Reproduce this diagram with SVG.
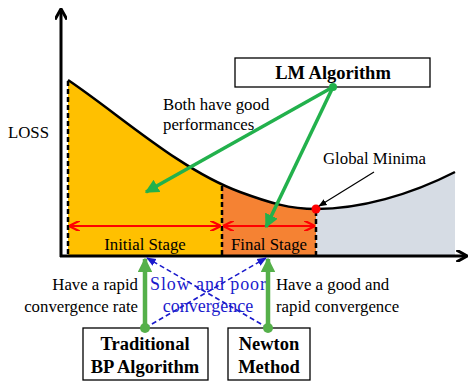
<svg xmlns="http://www.w3.org/2000/svg" width="474" height="390" viewBox="0 0 474 390" font-family="'Liberation Serif', 'Times New Roman', 'DejaVu Serif', serif">
<style>
text{font-family:'Liberation Serif','Times New Roman','DejaVu Serif',serif;fill:#000}
.lbl{font-size:16.8px}
.bold{font-size:18.5px;font-weight:bold}
.box{fill:#fff;stroke:#000;stroke-width:1.3}
.green{stroke:#22B14C;stroke-width:3.5;fill:none}
.gbot{stroke:#55B04A;stroke-width:4.5;fill:none}
.blue{stroke:#1A1ACC;stroke-width:1.6;stroke-dasharray:5,3;fill:none}
.red{stroke:#FF0000;stroke-width:1.8;fill:none}
.dash{stroke:#000;stroke-width:2.5;stroke-dasharray:5,3;fill:none}
.bt{font-size:18px;fill:#1A1ACC}
</style>
<defs>
<clipPath id="under"><path d="M68,80 C120,115 180,170 240,192 C270,203 290,209 316,209 C360,209 410,195 455,172 L455,256 L68,256 Z"/></clipPath>
<marker id="ga" viewBox="0 0 10 10" refX="9" refY="5" markerWidth="4" markerHeight="4" orient="auto"><path d="M0,0 L10,5 L0,10 Z" fill="#22B14C"/></marker>
<marker id="gb" viewBox="0 0 10 10" refX="9" refY="5" markerWidth="3.2" markerHeight="3.2" orient="auto"><path d="M0,0 L10,5 L0,10 Z" fill="#55B04A"/></marker>
<marker id="ba" viewBox="0 0 10 10" refX="9" refY="5" markerWidth="6" markerHeight="6" orient="auto"><path d="M0,1 L10,5 L0,9 Z" fill="#1A1ACC"/></marker>
<marker id="ra" viewBox="0 0 10 10" refX="9" refY="5" markerWidth="6" markerHeight="6" orient="auto-start-reverse"><path d="M0,0 L10,5 L0,10" fill="none" stroke="#FF0000" stroke-width="2"/></marker>
<marker id="ka" viewBox="0 0 10 10" refX="9" refY="5" markerWidth="7" markerHeight="7" orient="auto"><path d="M0,1 L10,5 L0,9 Z" fill="#000"/></marker>
<marker id="ax" viewBox="0 0 10 10" refX="8" refY="5" markerWidth="4" markerHeight="4" orient="auto"><path d="M0,0 L9,5 L0,10" fill="none" stroke="#000" stroke-width="2.5"/></marker>
</defs>

<g id="regions" clip-path="url(#under)">
<rect x="68" y="60" width="154" height="200" fill="#FFC000"/>
<rect x="222" y="60" width="94" height="200" fill="#F58233"/>
<rect x="316" y="60" width="139" height="200" fill="#D6DCE4"/>
</g>

<g id="axes">
<line x1="61" y1="257" x2="61" y2="10" stroke="#000" stroke-width="3" marker-end="url(#ax)"/>
<line x1="60" y1="256" x2="466" y2="256" stroke="#000" stroke-width="3" marker-end="url(#ax)"/>
</g>

<g id="curve">
<path d="M68,80 C120,115 180,170 240,192 C270,203 290,209 316,209 C360,209 410,195 455,172" fill="none" stroke="#000" stroke-width="2.5"/>
<line class="dash" x1="68" y1="81" x2="68" y2="255"/>
<line class="dash" x1="222" y1="186" x2="222" y2="255"/>
<line class="dash" x1="316" y1="211" x2="316" y2="255"/>
<circle cx="316" cy="209" r="4.5" fill="#FF0000"/>
</g>

<g id="stages">
<line class="red" x1="70" y1="226" x2="220" y2="226" marker-start="url(#ra)" marker-end="url(#ra)"/>
<line class="red" x1="224" y1="226" x2="314" y2="226" marker-start="url(#ra)" marker-end="url(#ra)"/>
<text class="lbl" x="145" y="250" text-anchor="middle">Initial Stage</text>
<text class="lbl" x="269" y="250" text-anchor="middle">Final Stage</text>
</g>

<g id="labels">
<text class="lbl" x="8" y="138">LOSS</text>
<text class="lbl" x="163" y="110">Both have good</text>
<text class="lbl" x="163" y="130">performances</text>
<text class="lbl" x="323" y="164">Global Minima</text>
<text class="lbl" x="138" y="290" text-anchor="end">Have a rapid</text>
<text class="lbl" x="138" y="312" text-anchor="end">convergence rate</text>
<text class="lbl" x="276" y="290">Have a good and</text>
<text class="lbl" x="276" y="312">rapid convergence</text>
<text class="bt" x="150" y="290" textLength="116" lengthAdjust="spacing">Slow and poor</text>
<text class="bt" x="208" y="312" text-anchor="middle">convergence</text>
</g>

<g id="lm">
<rect class="box" x="235" y="58" width="195" height="29"/>
<text class="bold" x="333" y="79" text-anchor="middle">LM Algorithm</text>
</g>

<g id="bp">
<rect class="box" x="83" y="328" width="125" height="52"/>
<text class="bold" x="145" y="350" text-anchor="middle">Traditional</text>
<text class="bold" x="145" y="373" text-anchor="middle">BP Algorithm</text>
</g>

<g id="newton">
<rect class="box" x="228" y="328" width="82" height="52"/>
<text class="bold" x="269" y="350" text-anchor="middle">Newton</text>
<text class="bold" x="269" y="373" text-anchor="middle">Method</text>
</g>

<g id="connectors">
<line class="green" x1="333" y1="87" x2="146" y2="192" marker-end="url(#ga)"/>
<line class="green" x1="333" y1="87" x2="266" y2="227" marker-end="url(#ga)"/>
<circle cx="333" cy="87" r="4" fill="#22B14C"/>
<line class="blue" x1="145" y1="328" x2="266" y2="258" marker-end="url(#ba)"/>
<line class="blue" x1="268" y1="328" x2="147" y2="258" marker-end="url(#ba)"/>
<line class="gbot" x1="145" y1="328" x2="145" y2="259" marker-end="url(#gb)"/>
<line class="gbot" x1="268" y1="328" x2="268" y2="259" marker-end="url(#gb)"/>
<circle cx="145" cy="328" r="5" fill="#55B04A"/>
<circle cx="268" cy="328" r="5" fill="#55B04A"/>
<line x1="374" y1="172" x2="319" y2="206" stroke="#000" stroke-width="1.2" marker-end="url(#ka)"/>
</g>
</svg>
